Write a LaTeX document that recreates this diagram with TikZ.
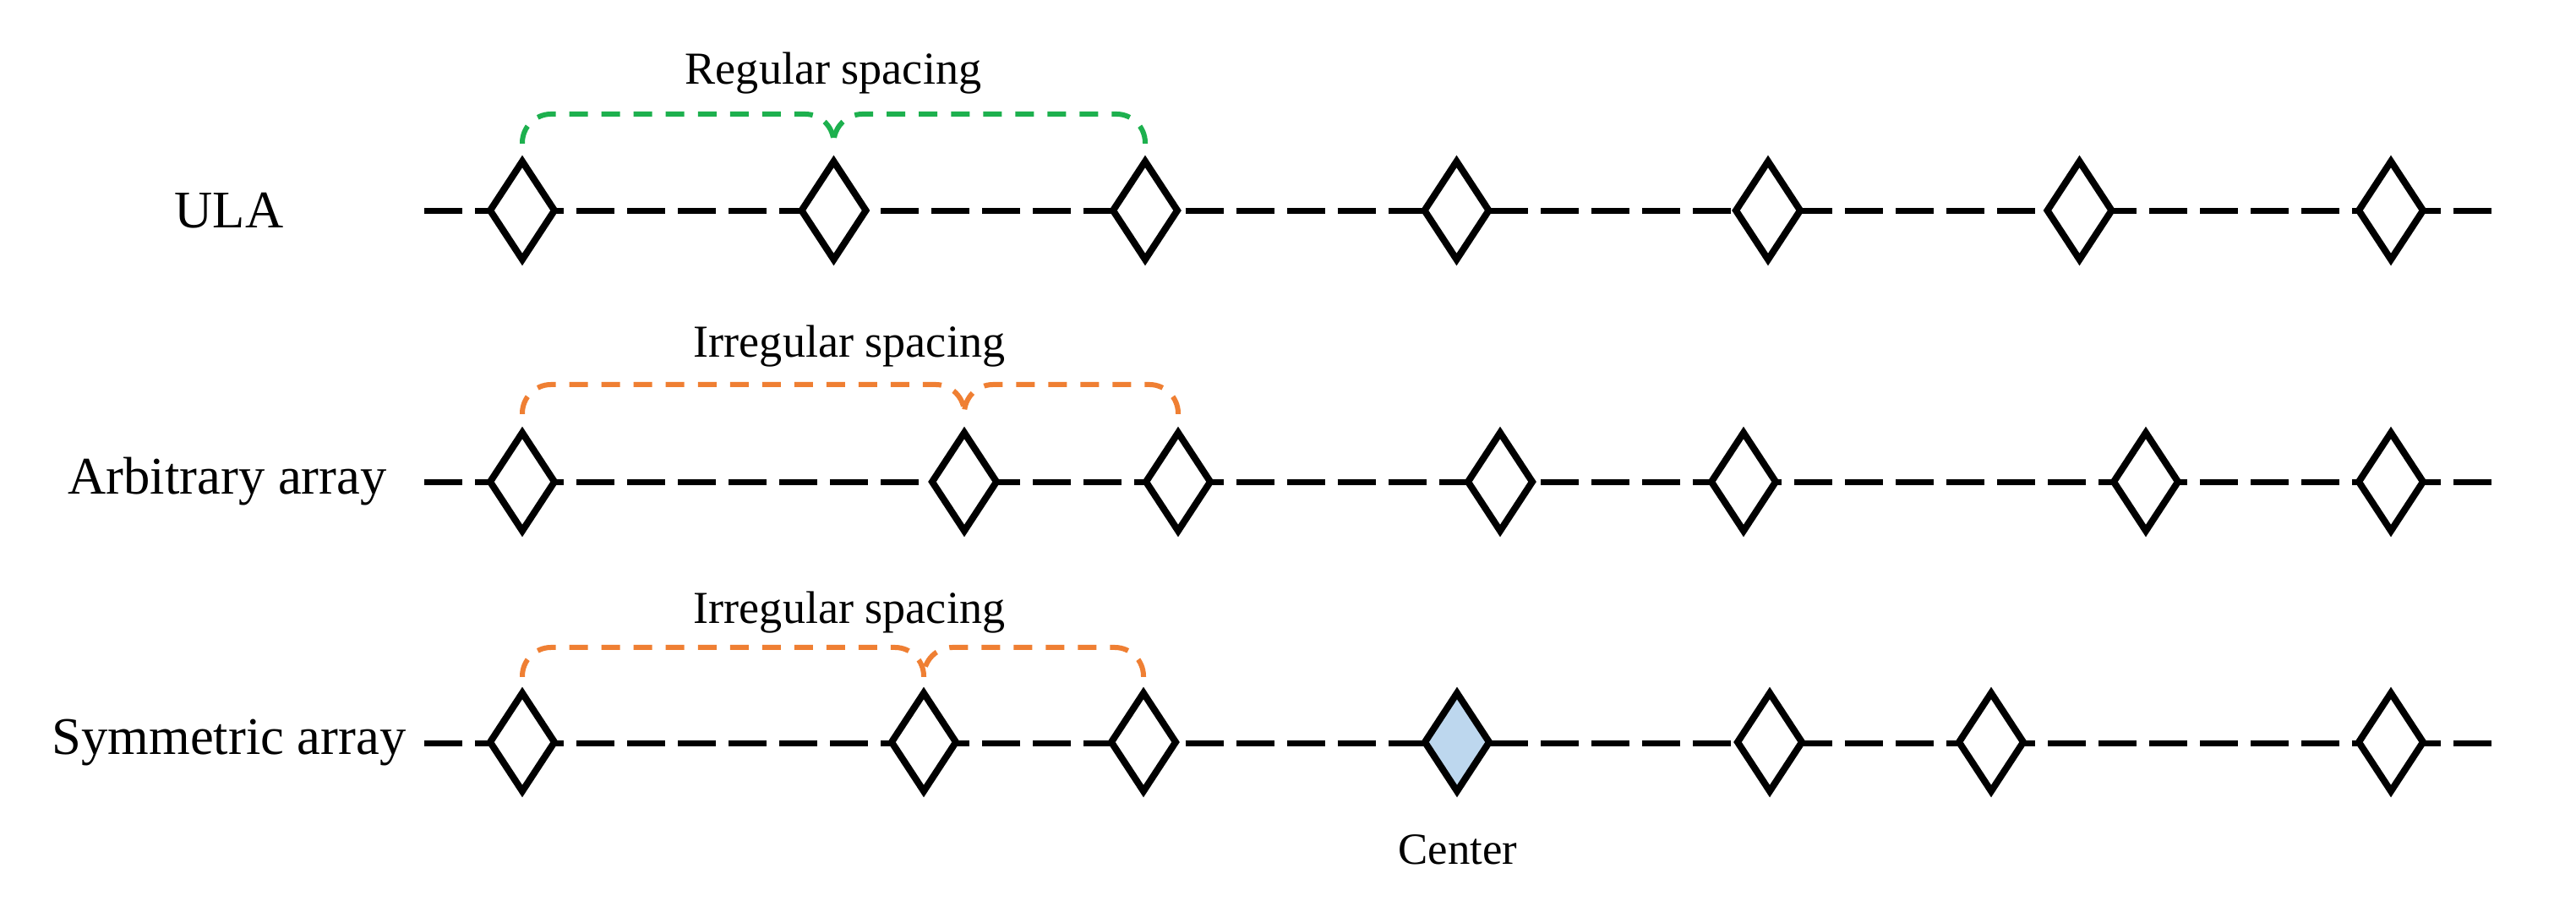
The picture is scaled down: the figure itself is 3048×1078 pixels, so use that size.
\documentclass[tikz,border=0pt]{standalone}
\usepackage{fontspec}
\setmainfont{Liberation Serif}
\usetikzlibrary{shapes.geometric,calc}
\definecolor{bracegreen}{HTML}{1DB04E}
\definecolor{braceorange}{HTML}{EF7F33}
\definecolor{centerblue}{HTML}{BDD7EE}
\begin{document}
\begin{tikzpicture}[x=0.01cm,y=-0.01cm,
 elem/.style={diamond, draw=black, line width=0.08cm, fill=white, minimum width=0.76cm, minimum height=1.16cm, inner sep=0pt, outer sep=0pt},
 link/.style={draw=black, line width=0.07cm, dash pattern=on 0.45cm off 0.15cm},
 brace/.style={line width=0.06cm, dash pattern=on 0.22cm off 0.16cm, rounded corners=0.34cm},
 rowlabel/.style={font=\fontsize{17.8}{21}\selectfont, anchor=center, inner sep=0pt},
 spanlabel/.style={font=\fontsize{15.4}{18}\selectfont, anchor=center, inner sep=0pt},
]
\useasboundingbox (0,0) rectangle (3048,1078);

% row labels
\node[rowlabel] (lab1) at (271,249) {ULA};
\node[rowlabel] (lab2) at (269,570) {Arbitrary array};
\node[rowlabel] (lab3) at (271,879) {Symmetric array};

% line end points
\coordinate (a0) at (502,249);
\coordinate (a8) at (2951,249);
\coordinate (b0) at (502,570);
\coordinate (b8) at (2951,570);
\coordinate (c0) at (502,879);
\coordinate (c8) at (2951,879);

% dashed array lines (drawn beneath the elements)
\foreach \r in {a,b,c}{
  \draw[link] (\r0) -- (\r8);
}

% row 1: ULA
\node[elem] (a1) at (618,249) {};
\node[elem] (a2) at (986.5,249) {};
\node[elem] (a3) at (1355,249) {};
\node[elem] (a4) at (1723.5,249) {};
\node[elem] (a5) at (2092,249) {};
\node[elem] (a6) at (2460.5,249) {};
\node[elem] (a7) at (2829,249) {};

% row 2: arbitrary
\node[elem] (b1) at (618,570) {};
\node[elem] (b2) at (1141,570) {};
\node[elem] (b3) at (1394,570) {};
\node[elem] (b4) at (1775,570) {};
\node[elem] (b5) at (2063,570) {};
\node[elem] (b6) at (2539,570) {};
\node[elem] (b7) at (2829,570) {};

% row 3: symmetric
\node[elem] (c1) at (618,878) {};
\node[elem] (c2) at (1093,878) {};
\node[elem] (c3) at (1353,878) {};
\node[elem, fill=centerblue] (c4) at (1724,878) {};
\node[elem] (c5) at (2094,878) {};
\node[elem] (c6) at (2356,878) {};
\node[elem] (c7) at (2829,878) {};

% braces
\draw[brace, bracegreen] ($(a1.north)+(0,-21)$) |- ($(a2.north)+(0,-56)$) -- ($(a2.north)+(0,-21)$);
\draw[brace, bracegreen] ($(a3.north)+(0,-21)$) |- ($(a2.north)+(0,-56)$) -- ($(a2.north)+(0,-21)$);
\draw[brace, braceorange] ($(b1.north)+(0,-22)$) |- ($(b2.north)+(0,-57)$) -- ($(b2.north)+(0,-22)$);
\draw[brace, braceorange] ($(b3.north)+(0,-22)$) |- ($(b2.north)+(0,-57)$) -- ($(b2.north)+(0,-22)$);
\draw[brace, braceorange] ($(c1.north)+(0,-19)$) |- ($(c2.north)+(0,-54)$) -- ($(c2.north)+(0,-19)$);
\draw[brace, braceorange] ($(c3.north)+(0,-19)$) |- ($(c2.north)+(0,-54)$) -- ($(c2.north)+(0,-19)$);

% span labels
\node[spanlabel] (s1) at (986,87) {Regular spacing};
\node[spanlabel] (s2) at (1005,410) {Irregular spacing};
\node[spanlabel] (s3) at (1005,725) {Irregular spacing};
\node[spanlabel, font=\fontsize{15}{18}\selectfont] (ctr) at (1725,1005) {Center};
\end{tikzpicture}
\end{document}
